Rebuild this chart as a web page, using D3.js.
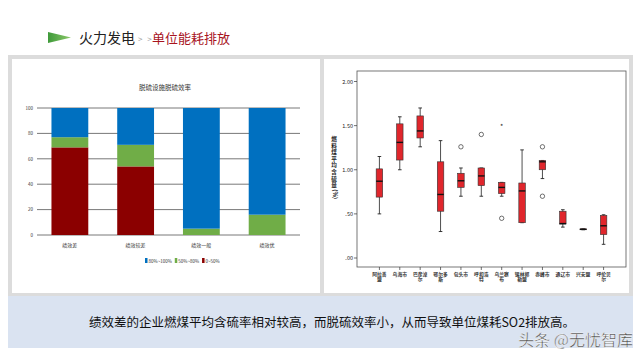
<!DOCTYPE html>
<html><head><meta charset="utf-8">
<script src="https://cdn.jsdelivr.net/npm/d3@7/dist/d3.min.js"></script>
<style>body{margin:0;background:#fff;}svg{display:block;font-family:"Noto Sans CJK SC","Noto Sans",sans-serif;}</style>
</head><body><svg id="c" width="640" height="360"></svg>
<script>
// ---- Left chart data (stacked %, bottom to top) ----
const barCats = ["绩效差","绩效较差","绩效一般","绩效优"];
const seriesNames = ["0~50%","50%~80%","80%~100%"];
const lowEff = [69, 54, 0, 0];
const midEff = [8, 17, 5, 16];
const highEff = [23, 29, 95, 84];
const barTicks = [0,20,40,60,80,100];

// ---- Right chart data (box plots) ----
const boxCats = ["阿拉善盟","乌海市","巴彦淖尔","鄂尔多斯","包头市","呼和浩特","乌兰察布","锡林郭勒盟","赤峰市","通辽市","兴安盟","呼伦贝尔"];
const boxLabels = [["阿拉善","盟"],["乌海市"],["巴彦淖","尔"],["鄂尔多","斯"],["包头市"],["呼和浩","特"],["乌兰察","布"],["锡林郭","勒盟"],["赤峰市"],["通辽市"],["兴安盟"],["呼伦贝","尔"]];
const wMin = [0.50,1.00,1.26,0.30,0.70,0.70,0.70,0.40,0.90,0.35,0.32,0.155];
const q1   = [0.69,1.11,1.36,0.53,0.80,0.82,0.73,0.40,1.00,0.385,0.32,0.265];
const med  = [0.87,1.31,1.44,0.72,0.875,0.93,0.80,0.76,1.09,0.39,0.325,0.365];
const q3   = [1.01,1.52,1.61,1.09,0.96,1.02,0.857,0.85,1.105,0.53,0.33,0.483];
const wMax = [1.15,1.60,1.70,1.33,1.02,1.02,0.857,1.225,1.105,0.547,0.33,0.49];
const outCircle = [[4,1.26],[5,1.40],[6,0.45],[8,1.26],[8,0.70]];
const outStar = [[6,1.50]];
const boxTicks = [0,0.5,1.0,1.5,2.0];
const boxTickLabels = [".00",".50","1.00","1.50","2.00"];
const yTitleChars = ["燃","料","煤","平","均","含","硫","量"];
const yTitleUnit = "(%)";

const svg = d3.select("#c");

// ---- Header ----
const tri = svg.append("defs").append("linearGradient").attr("id","g1");
tri.append("stop").attr("offset","0").attr("stop-color","#3f9a3a");
tri.append("stop").attr("offset","1").attr("stop-color","#8cc86a");
svg.append("path").attr("d","M48,32 L71,37.5 L48,43 Z").attr("fill","url(#g1)");
svg.append("text").attr("x",79).attr("y",43).attr("font-size",14).attr("fill","#222").text("火力发电");
svg.append("text").attr("x",138).attr("y",42).attr("font-size",8).attr("letter-spacing",1.5).attr("fill","#999").text("> >");
svg.append("text").attr("x",152).attr("y",43).attr("font-size",13).attr("fill","#a8141e").text("单位能耗排放");

// ---- Panels ----
svg.append("rect").attr("x",8).attr("y",55).attr("width",625).attr("height",242).attr("fill","#dcdcdc");
svg.append("rect").attr("x",12).attr("y",59).attr("width",308).attr("height",234).attr("fill","#fff");
svg.append("rect").attr("x",324).attr("y",59).attr("width",305).attr("height",234).attr("fill","#fff");
svg.append("rect").attr("x",8).attr("y",296).attr("width",625).attr("height",52).attr("fill","#dae3f1");
svg.append("text").attr("x",332).attr("y",327).attr("text-anchor","middle").attr("font-size",12.5).attr("fill","#111")
  .text("绩效差的企业燃煤平均含硫率相对较高，而脱硫效率小，从而导致单位煤耗SO2排放高。");
svg.append("text").attr("x",633).attr("y",346).attr("text-anchor","end").attr("font-size",16).attr("fill","#444")
  .attr("stroke","#fff").attr("stroke-width",0.4).text("头条 @无忧智库");

// ---- Left stacked bar chart ----
const xb = d3.scaleBand().domain(barCats).range([37,300]).paddingInner(0.44).paddingOuter(0.22);
const yb = d3.scaleLinear().domain([0,100]).range([235,108]);
const L = svg.append("g");
L.append("text").attr("x",165).attr("y",90).attr("text-anchor","middle").attr("font-size",6.5).attr("fill","#333").text("脱硫设施脱硫效率");
barTicks.forEach(t=>{
  L.append("line").attr("x1",37).attr("x2",300).attr("y1",yb(t)).attr("y2",yb(t)).attr("stroke","#555").attr("stroke-width",0.8);
  L.append("text").attr("x",33).attr("y",yb(t)+1.8).attr("text-anchor","end").attr("font-size",4.5).attr("fill","#333").text(t);
});
const stackData = barCats.map((c,i)=>({cat:c, low:lowEff[i], mid:midEff[i], high:highEff[i]}));
const stack = d3.stack().keys(["low","mid","high"])(stackData);
const colors = {low:"#8b0000", mid:"#70ad47", high:"#0070c0"};
stack.forEach(s=>{
  L.selectAll(null).data(s).enter().append("rect")
    .attr("x",d=>xb(d.data.cat)).attr("width",xb.bandwidth())
    .attr("y",d=>yb(d[1])).attr("height",d=>yb(d[0])-yb(d[1]))
    .attr("fill",colors[s.key]);
});
barCats.forEach(c=>{
  L.append("text").attr("x",xb(c)+xb.bandwidth()/2).attr("y",247).attr("text-anchor","middle").attr("font-size",5).attr("fill","#333").text(c);
});
const legItems = [["high",seriesNames[2]],["mid",seriesNames[1]],["low",seriesNames[0]]];
let lx = 145;
legItems.forEach(([k,n])=>{
  L.append("rect").attr("x",lx).attr("y",258).attr("width",2.5).attr("height",5).attr("fill",colors[k]);
  const t = L.append("text").attr("x",lx+3.5).attr("y",262.5).attr("font-size",4.5).attr("fill","#333").text(n);
  lx += 4.5 + t.node().getComputedTextLength() + 2;
});

// ---- Right box plot ----
const xp = d3.scalePoint().domain(boxCats).range([357,626]).padding(1.1);
const yp = d3.scaleLinear().domain([0,2]).range([258,81.5]);
const R = svg.append("g");
R.append("rect").attr("x",357).attr("y",71).attr("width",269).attr("height",196).attr("fill","none").attr("stroke","#555").attr("stroke-width",0.8);
boxTicks.forEach((t,i)=>{
  R.append("line").attr("x1",354).attr("x2",357).attr("y1",yp(t)).attr("y2",yp(t)).attr("stroke","#333").attr("stroke-width",0.7);
  R.append("text").attr("x",353).attr("y",yp(t)+2).attr("text-anchor","end").attr("font-size",5.5).attr("fill","#222").text(boxTickLabels[i]);
});
const yt = R.append("text").attr("x",334).attr("y",141).attr("text-anchor","middle").attr("font-size",5.6).attr("font-weight","bold").attr("fill","#222");
yTitleChars.forEach((ch,i)=>{
  yt.append("tspan").attr("x",334).attr("dy",i===0?0:6.6).text(ch);
});
R.append("text").attr("transform",`translate(332.5,${141+7*6.6+7}) rotate(90)`).attr("text-anchor","middle")
  .attr("font-size",5.8).attr("font-weight","bold").attr("fill","#222").text(yTitleUnit);
const bw = 6.5;
boxCats.forEach((c,i)=>{
  const cx = xp(c);
  R.append("line").attr("x1",cx).attr("x2",cx).attr("y1",267).attr("y2",270).attr("stroke","#333").attr("stroke-width",0.7);
  boxLabels[i].forEach((ln,j)=>{
    R.append("text").attr("x",cx).attr("y",275.5+j*5.5).attr("text-anchor","middle").attr("font-size",4.8).attr("font-weight","bold").attr("fill","#333").text(ln);
  });
  R.append("line").attr("x1",cx).attr("x2",cx).attr("y1",yp(wMax[i])).attr("y2",yp(wMin[i])).attr("stroke","#222").attr("stroke-width",0.8);
  R.append("line").attr("x1",cx-1.8).attr("x2",cx+1.8).attr("y1",yp(wMax[i])).attr("y2",yp(wMax[i])).attr("stroke","#222").attr("stroke-width",0.9);
  R.append("line").attr("x1",cx-1.8).attr("x2",cx+1.8).attr("y1",yp(wMin[i])).attr("y2",yp(wMin[i])).attr("stroke","#222").attr("stroke-width",0.9);
  R.append("rect").attr("x",cx-bw/2).attr("width",bw).attr("y",yp(q3[i])).attr("height",Math.max(0.8,yp(q1[i])-yp(q3[i])))
    .attr("fill","#e0262c").attr("stroke","#333").attr("stroke-width",0.6);
  R.append("line").attr("x1",cx-bw/2).attr("x2",cx+bw/2).attr("y1",yp(med[i])).attr("y2",yp(med[i])).attr("stroke","#111").attr("stroke-width",1.4);
});
outCircle.forEach(([i,v])=>{
  R.append("circle").attr("cx",xp(boxCats[i])).attr("cy",yp(v)).attr("r",2.2).attr("fill","none").attr("stroke","#333").attr("stroke-width",0.7);
});
outStar.forEach(([i,v])=>{
  R.append("text").attr("x",xp(boxCats[i])).attr("y",yp(v)+3).attr("text-anchor","middle").attr("font-size",7).attr("fill","#222").text("*");
});
</script></body></html>
